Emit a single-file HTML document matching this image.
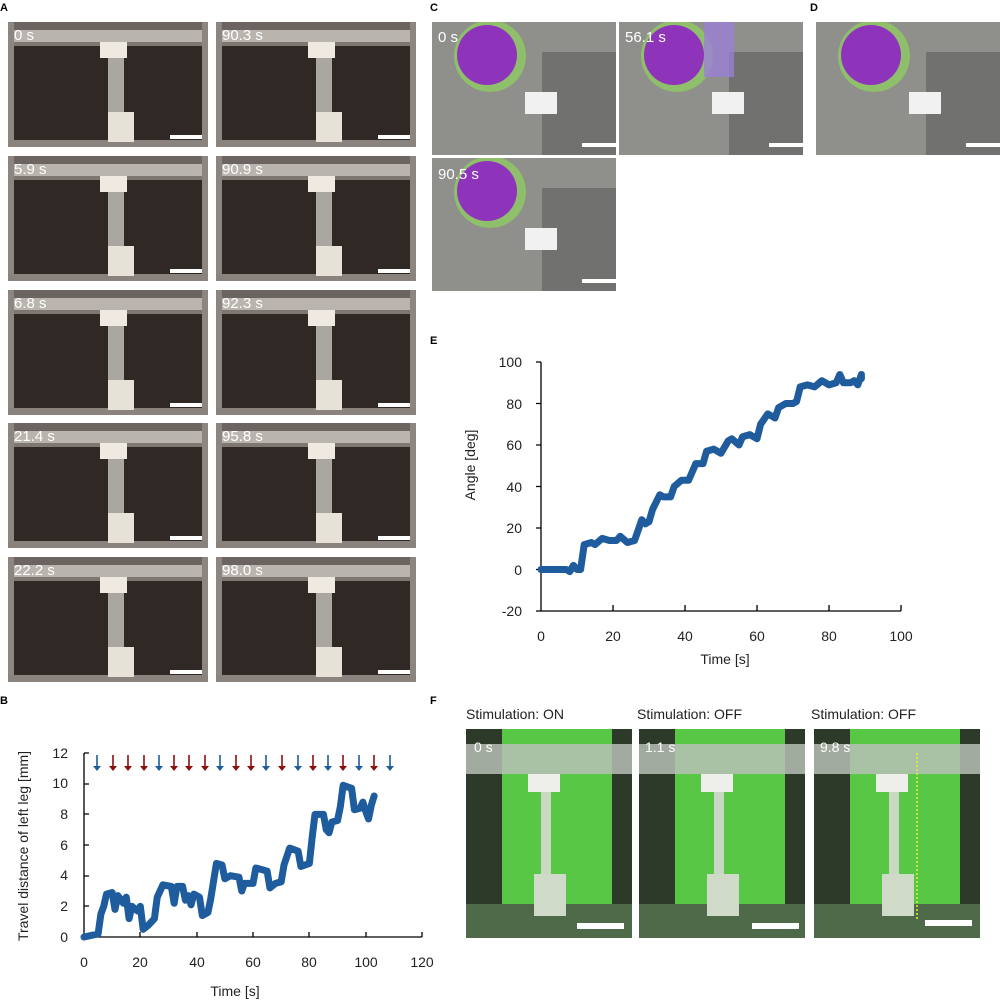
<!DOCTYPE html>
<html><head><meta charset="utf-8"><style>
html,body{margin:0;padding:0;background:#fff;}
svg{display:block;font-family:"Liberation Sans",sans-serif;}
</style></head><body>
<svg width="1000" height="1003" viewBox="0 0 1000 1003" xmlns="http://www.w3.org/2000/svg">
<defs>
<symbol id="fa" viewBox="0 0 200 125" width="200" height="125">
<rect width="200" height="125" fill="#2f2824"/>
<rect x="0" y="0" width="200" height="8" fill="#6b6460"/>
<rect x="0" y="8" width="200" height="12" fill="#b9b4ae"/>
<rect x="0" y="20" width="200" height="4" fill="#7d7671"/>
<rect x="0" y="0" width="6" height="125" fill="#8c8580"/>
<rect x="194" y="0" width="6" height="125" fill="#8c8580"/>
<rect x="0" y="118" width="200" height="7" fill="#8a827c"/>
<rect x="92" y="20" width="27" height="16" fill="#eeeae2"/>
<rect x="100" y="36" width="16" height="55" fill="#c9c6bf" opacity="0.8"/>
<rect x="100" y="90" width="26" height="30" fill="#e6e2d8"/>
<rect x="162" y="113" width="32" height="4" fill="#fff"/>
</symbol>
<symbol id="fc" viewBox="0 0 184 133" width="184" height="133">
<rect width="184" height="133" fill="#8f8f8c"/>
<rect x="110" y="30" width="74" height="103" fill="#5d5d5b" opacity="0.6"/>
<circle cx="58" cy="34" r="36" fill="#8fbf6a"/>
<circle cx="55" cy="33" r="30" fill="#8e34bb"/>
<rect x="93" y="70" width="32" height="22" fill="#f1f1f1"/>
<rect x="150" y="121" width="34" height="4" fill="#fff"/>
</symbol>
<symbol id="ff" viewBox="0 0 166 209" width="166" height="209">
<rect width="166" height="209" fill="#2d3a2a"/>
<rect x="36" y="0" width="110" height="175" fill="#57c745"/>
<rect x="0" y="175" width="166" height="34" fill="#4f6a48"/>
<rect x="0" y="15" width="166" height="30" fill="#b7c0b5" opacity="0.85"/>
<rect x="62" y="45" width="32" height="18" fill="#eeeeea"/>
<rect x="75" y="63" width="10" height="90" fill="#c8d8c3"/>
<rect x="68" y="145" width="32" height="42" fill="#cfdac9"/>
</symbol>
</defs>

<text x="0" y="11" font-size="11" font-weight="bold">A</text>
<use href="#fa" x="8" y="22"/><use href="#fa" x="216" y="22"/>
<use href="#fa" x="8" y="156"/><use href="#fa" x="216" y="156"/>
<use href="#fa" x="8" y="290"/><use href="#fa" x="216" y="290"/>
<use href="#fa" x="8" y="423"/><use href="#fa" x="216" y="423"/>
<use href="#fa" x="8" y="557"/><use href="#fa" x="216" y="557"/>
<g fill="#fff" font-size="15">
<text x="14" y="40">0 s</text><text x="222" y="40">90.3 s</text>
<text x="14" y="174">5.9 s</text><text x="222" y="174">90.9 s</text>
<text x="14" y="308">6.8 s</text><text x="222" y="308">92.3 s</text>
<text x="14" y="441">21.4 s</text><text x="222" y="441">95.8 s</text>
<text x="14" y="575">22.2 s</text><text x="222" y="575">98.0 s</text>
</g>

<text x="430" y="11" font-size="11" font-weight="bold">C</text>
<text x="810" y="11" font-size="11" font-weight="bold">D</text>
<use href="#fc" x="432" y="22"/><use href="#fc" x="619" y="22"/>
<use href="#fc" x="432" y="158"/><use href="#fc" x="816" y="22"/>
<g fill="#fff" font-size="15">
<text x="438" y="42">0 s</text><text x="625" y="42">56.1 s</text><text x="438" y="179">90.5 s</text>
</g>
<rect x="704" y="22" width="30" height="55" fill="#9a7fd6" opacity="0.8"/>

<text x="430" y="344" font-size="11" font-weight="bold">E</text>
<g font-size="14" fill="#222" text-anchor="end">
<text x="522" y="367">100</text><text x="522" y="409">80</text><text x="522" y="450">60</text>
<text x="522" y="492">40</text><text x="522" y="533">20</text><text x="522" y="575">0</text>
<text x="522" y="616">-20</text>
</g>
<g font-size="14" fill="#222" text-anchor="middle">
<text x="541" y="641">0</text><text x="613" y="641">20</text><text x="685" y="641">40</text>
<text x="757" y="641">60</text><text x="829" y="641">80</text><text x="901" y="641">100</text>
<text x="725" y="664">Time [s]</text>
</g>
<text transform="translate(475,465) rotate(-90)" font-size="14" fill="#222" text-anchor="middle">Angle [deg]</text>
<g stroke="#000" stroke-width="1.3" fill="none">
<path d="M541,362 V611 H901"/>
<path d="M536,362H541M536,403.5H541M536,445H541M536,486.5H541M536,528H541M536,569.5H541M536,611H541"/>
<path d="M613,611V605M685,611V605M757,611V605M829,611V605M901,611V605"/>
</g>
<polyline transform="translate(541,569.5) scale(3.6,-2.075)" vector-effect="non-scaling-stroke" fill="none" stroke="#1f5c9e" stroke-width="7" stroke-linejoin="round" stroke-linecap="round"
points="0,0 7,0 8,-1 9,2 10,0 11,0 12,12 14,13 15,12 17,15 19,14 21,14 22,16 24,13 26,14 27,19 28,24 29,22 30,23 31,29 33,36 34,35 36,35 37,40 39,43 41,43 42,47 43,51 45,51 46,57 48,58 50,56 52,62 53,63 55,60 56,64 58,65 60,63 61,70 63,75 65,73 66,78 68,80 70,80 71,81 72,88 74,89 76,88 78,91 80,89 82,90 83,94 84,90 86,90 87,91 88,89 89,94 89,92"/>

<text x="0" y="704" font-size="11" font-weight="bold">B</text>
<g font-size="14" fill="#222" text-anchor="end">
<text x="68" y="758">12</text><text x="68" y="788">10</text><text x="68" y="819">8</text>
<text x="68" y="850">6</text><text x="68" y="880">4</text><text x="68" y="911">2</text><text x="68" y="942">0</text>
</g>
<g font-size="14" fill="#222" text-anchor="middle">
<text x="84" y="967">0</text><text x="140" y="967">20</text><text x="197" y="967">40</text>
<text x="253" y="967">60</text><text x="309" y="967">80</text><text x="366" y="967">100</text><text x="422" y="967">120</text>
<text x="235" y="996">Time [s]</text>
</g>
<text transform="translate(28,846) rotate(-90)" font-size="14" fill="#222" text-anchor="middle">Travel distance of left leg [mm]</text>
<g stroke="#000" stroke-width="1.3" fill="none">
<path d="M84,753 V937 H422"/>
<path d="M84,753H89M84,784H89M84,814H89M84,845H89M84,876H89M84,906H89"/>
<path d="M140,937V932M197,937V932M253,937V932M309,937V932M366,937V932M422,937V932"/>
</g>
<polyline transform="translate(84,937) scale(2.817,-15.33)" vector-effect="non-scaling-stroke" fill="none" stroke="#1f5c9e" stroke-width="7" stroke-linejoin="round" stroke-linecap="round"
points="0,0 5,0.2 6,1.5 7,2 8,2.8 10,2.9 11,1.8 12,2.7 14,2.2 15,2.6 16,1.2 17,2 19,1.7 20,2 21,0.5 23,0.8 25,1.2 26,2.6 28,3.4 31,3.3 32,2.2 33,3.3 35,3.3 36,2.4 37,2.7 38,2.1 39,2.8 41,2.6 42,1.4 44,1.6 45,2.5 47,4.8 49,4.7 50,3.8 52,4 55,3.9 56,3 57,3.5 60,3.5 61,4.5 63,4.4 65,4.3 66,3.2 68,3.5 70,3.6 71,4.7 73,5.8 76,5.6 77,4.6 80,4.8 81,6.5 82,8 85,8 86,7 87,6.8 88,7.5 90,7.6 91,8.5 92,9.9 95,9.7 96,8.3 98,8.4 99,8.8 100,8.2 101,7.7 102,8.6 103,9.2"/>
<g stroke-width="1.6">
<g stroke="#1f5c9e">
<path d="M97,755V768M159,755V768M220,755V768M266,755V768M298,755V768M328,755V768M359,755V768M390,755V768"/>
</g>
<g stroke="#8b0f0f">
<path d="M113,755V768M128,755V768M144,755V768M174,755V768M189,755V768M205,755V768M236,755V768M251,755V768M282,755V768M313,755V768M343,755V768M374,755V768"/>
</g>
</g>
<g fill="#1f5c9e">
<path d="M93,766h8l-4,5z M155,766h8l-4,5z M216,766h8l-4,5z M262,766h8l-4,5z M294,766h8l-4,5z M324,766h8l-4,5z M355,766h8l-4,5z M386,766h8l-4,5z"/>
</g>
<g fill="#8b0f0f">
<path d="M109,766h8l-4,5z M124,766h8l-4,5z M140,766h8l-4,5z M170,766h8l-4,5z M185,766h8l-4,5z M201,766h8l-4,5z M232,766h8l-4,5z M247,766h8l-4,5z M278,766h8l-4,5z M309,766h8l-4,5z M339,766h8l-4,5z M370,766h8l-4,5z"/>
</g>

<text x="430" y="704" font-size="11" font-weight="bold">F</text>
<g font-size="14" fill="#222">
<text x="466" y="719">Stimulation: ON</text>
<text x="637" y="719">Stimulation: OFF</text>
<text x="811" y="719">Stimulation: OFF</text>
</g>
<use href="#ff" x="466" y="729"/><use href="#ff" x="639" y="729"/><use href="#ff" x="814" y="729"/>
<g fill="#fff">
<rect x="577" y="923" width="47" height="6"/>
<rect x="752" y="923" width="47" height="6"/>
<rect x="925" y="920" width="47" height="6"/>
</g>
<line x1="917" y1="753" x2="917" y2="920" stroke="#e8ea3a" stroke-width="1.5" stroke-dasharray="2,2"/>
<g fill="#fff" font-size="14">
<text x="474" y="752">0 s</text><text x="645" y="752">1.1 s</text><text x="820" y="752">9.8 s</text>
</g>
</svg>
</body></html>
